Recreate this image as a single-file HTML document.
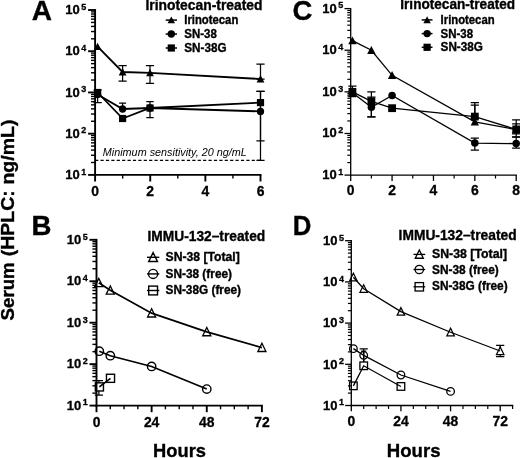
<!DOCTYPE html>
<html><head><meta charset="utf-8"><title>Figure</title>
<style>html,body{margin:0;padding:0;background:#fff}svg{display:block}</style></head>
<body>
<svg width="520" height="458" viewBox="0 0 520 458" font-family='"Liberation Sans", Arial, Helvetica, sans-serif' fill="#000">
<rect width="520" height="458" fill="#fff"/>
<text x="31.8" y="20.0" text-anchor="start" font-size="28" font-weight="bold" stroke="#000" stroke-width="0.35">A</text>
<line x1="95.1" y1="160.3" x2="260.5" y2="160.3" stroke="#000" stroke-width="1.3" stroke-dasharray="3.2 2.2"/>
<text x="102.8" y="155.5" text-anchor="start" font-size="11" font-weight="normal" textLength="144" lengthAdjust="spacingAndGlyphs" font-style="italic">Minimum sensitivity, 20 ng/mL</text>
<path d="M122.60 65.50V81.00M118.50 65.50H126.70M118.50 81.00H126.70" stroke="#000" stroke-width="1.25" fill="none"/>
<path d="M150.00 65.50V83.30M145.90 65.50H154.10M145.90 83.30H154.10" stroke="#000" stroke-width="1.25" fill="none"/>
<path d="M260.50 64.20V79.00M256.40 64.20H264.60M256.40 79.00H264.60" stroke="#000" stroke-width="1.25" fill="none"/>
<path d="M97.60 90.00V102.70M93.50 90.00H101.70M93.50 102.70H101.70" stroke="#000" stroke-width="1.25" fill="none"/>
<path d="M122.60 103.00V109.00M119.10 103.00H126.10M119.10 109.00H126.10" stroke="#000" stroke-width="1.25" fill="none"/>
<path d="M150.00 101.50V117.70M146.30 101.50H153.70M146.30 117.70H153.70" stroke="#000" stroke-width="1.25" fill="none"/>
<path d="M260.50 91.40V140.90M256.40 91.40H264.60M256.40 140.90H264.60" stroke="#000" stroke-width="1.25" fill="none"/>
<path d="M260.50 91.40V160.30M256.40 91.40H264.60M256.40 160.30H264.60" stroke="#000" stroke-width="1.25" fill="none"/>
<polyline points="97.60,46.60 122.60,72.00 150.00,72.80 260.50,79.00" fill="none" stroke="#000" stroke-width="1.8"/>
<polyline points="97.60,94.50 122.60,109.00 150.00,108.00 260.50,111.40" fill="none" stroke="#000" stroke-width="1.8"/>
<polyline points="97.60,92.50 122.60,118.50 150.00,108.00 260.50,102.60" fill="none" stroke="#000" stroke-width="1.8"/>
<polygon points="97.60,42.70 93.70,50.03 101.50,50.03" fill="#000"/>
<polygon points="122.60,68.10 118.70,75.43 126.50,75.43" fill="#000"/>
<polygon points="150.00,68.90 146.10,76.23 153.90,76.23" fill="#000"/>
<polygon points="260.50,75.10 256.60,82.43 264.40,82.43" fill="#000"/>
<circle cx="97.60" cy="94.50" r="3.65" fill="#000"/>
<circle cx="122.60" cy="109.00" r="3.65" fill="#000"/>
<circle cx="150.00" cy="108.00" r="3.65" fill="#000"/>
<circle cx="260.50" cy="111.40" r="3.65" fill="#000"/>
<rect x="94.00" y="88.90" width="7.2" height="7.2" fill="#000"/>
<rect x="119.00" y="114.90" width="7.2" height="7.2" fill="#000"/>
<rect x="146.40" y="104.40" width="7.2" height="7.2" fill="#000"/>
<rect x="256.90" y="99.00" width="7.2" height="7.2" fill="#000"/>
<line x1="95.1" y1="9.05" x2="95.1" y2="175.85" stroke="#000" stroke-width="1.9"/>
<line x1="94.15" y1="174.9" x2="261.45" y2="174.9" stroke="#000" stroke-width="1.9"/>
<line x1="88.1" y1="174.90" x2="95.1" y2="174.90" stroke="#000" stroke-width="1.9"/>
<text x="86.30" y="179.00" text-anchor="end" font-size="13" font-weight="bold" stroke="#000" stroke-width="0.3">10<tspan font-size="9.0" dx="1.5" dy="-4.3">1</tspan></text>
<line x1="91.0" y1="162.49" x2="95.1" y2="162.49" stroke="#000" stroke-width="1.4"/>
<line x1="91.0" y1="155.23" x2="95.1" y2="155.23" stroke="#000" stroke-width="1.4"/>
<line x1="91.0" y1="150.08" x2="95.1" y2="150.08" stroke="#000" stroke-width="1.4"/>
<line x1="91.0" y1="146.08" x2="95.1" y2="146.08" stroke="#000" stroke-width="1.4"/>
<line x1="91.0" y1="142.82" x2="95.1" y2="142.82" stroke="#000" stroke-width="1.4"/>
<line x1="91.0" y1="140.06" x2="95.1" y2="140.06" stroke="#000" stroke-width="1.4"/>
<line x1="91.0" y1="137.67" x2="95.1" y2="137.67" stroke="#000" stroke-width="1.4"/>
<line x1="91.0" y1="135.56" x2="95.1" y2="135.56" stroke="#000" stroke-width="1.4"/>
<line x1="88.1" y1="133.68" x2="95.1" y2="133.68" stroke="#000" stroke-width="1.9"/>
<text x="86.30" y="137.78" text-anchor="end" font-size="13" font-weight="bold" stroke="#000" stroke-width="0.3">10<tspan font-size="9.0" dx="1.5" dy="-4.3">2</tspan></text>
<line x1="91.0" y1="121.27" x2="95.1" y2="121.27" stroke="#000" stroke-width="1.4"/>
<line x1="91.0" y1="114.01" x2="95.1" y2="114.01" stroke="#000" stroke-width="1.4"/>
<line x1="91.0" y1="108.86" x2="95.1" y2="108.86" stroke="#000" stroke-width="1.4"/>
<line x1="91.0" y1="104.86" x2="95.1" y2="104.86" stroke="#000" stroke-width="1.4"/>
<line x1="91.0" y1="101.60" x2="95.1" y2="101.60" stroke="#000" stroke-width="1.4"/>
<line x1="91.0" y1="98.84" x2="95.1" y2="98.84" stroke="#000" stroke-width="1.4"/>
<line x1="91.0" y1="96.45" x2="95.1" y2="96.45" stroke="#000" stroke-width="1.4"/>
<line x1="91.0" y1="94.34" x2="95.1" y2="94.34" stroke="#000" stroke-width="1.4"/>
<line x1="88.1" y1="92.45" x2="95.1" y2="92.45" stroke="#000" stroke-width="1.9"/>
<text x="86.30" y="96.55" text-anchor="end" font-size="13" font-weight="bold" stroke="#000" stroke-width="0.3">10<tspan font-size="9.0" dx="1.5" dy="-4.3">3</tspan></text>
<line x1="91.0" y1="80.04" x2="95.1" y2="80.04" stroke="#000" stroke-width="1.4"/>
<line x1="91.0" y1="72.78" x2="95.1" y2="72.78" stroke="#000" stroke-width="1.4"/>
<line x1="91.0" y1="67.63" x2="95.1" y2="67.63" stroke="#000" stroke-width="1.4"/>
<line x1="91.0" y1="63.63" x2="95.1" y2="63.63" stroke="#000" stroke-width="1.4"/>
<line x1="91.0" y1="60.37" x2="95.1" y2="60.37" stroke="#000" stroke-width="1.4"/>
<line x1="91.0" y1="57.61" x2="95.1" y2="57.61" stroke="#000" stroke-width="1.4"/>
<line x1="91.0" y1="55.22" x2="95.1" y2="55.22" stroke="#000" stroke-width="1.4"/>
<line x1="91.0" y1="53.11" x2="95.1" y2="53.11" stroke="#000" stroke-width="1.4"/>
<line x1="88.1" y1="51.22" x2="95.1" y2="51.22" stroke="#000" stroke-width="1.9"/>
<text x="86.30" y="55.32" text-anchor="end" font-size="13" font-weight="bold" stroke="#000" stroke-width="0.3">10<tspan font-size="9.0" dx="1.5" dy="-4.3">4</tspan></text>
<line x1="91.0" y1="38.82" x2="95.1" y2="38.82" stroke="#000" stroke-width="1.4"/>
<line x1="91.0" y1="31.56" x2="95.1" y2="31.56" stroke="#000" stroke-width="1.4"/>
<line x1="91.0" y1="26.41" x2="95.1" y2="26.41" stroke="#000" stroke-width="1.4"/>
<line x1="91.0" y1="22.41" x2="95.1" y2="22.41" stroke="#000" stroke-width="1.4"/>
<line x1="91.0" y1="19.15" x2="95.1" y2="19.15" stroke="#000" stroke-width="1.4"/>
<line x1="91.0" y1="16.39" x2="95.1" y2="16.39" stroke="#000" stroke-width="1.4"/>
<line x1="91.0" y1="14.00" x2="95.1" y2="14.00" stroke="#000" stroke-width="1.4"/>
<line x1="91.0" y1="11.89" x2="95.1" y2="11.89" stroke="#000" stroke-width="1.4"/>
<line x1="88.1" y1="10.00" x2="95.1" y2="10.00" stroke="#000" stroke-width="1.9"/>
<text x="86.30" y="14.10" text-anchor="end" font-size="13" font-weight="bold" stroke="#000" stroke-width="0.3">10<tspan font-size="9.0" dx="1.5" dy="-4.3">5</tspan></text>
<line x1="95.10" y1="174.9" x2="95.10" y2="181.5" stroke="#000" stroke-width="1.9"/>
<line x1="150.23" y1="174.9" x2="150.23" y2="181.5" stroke="#000" stroke-width="1.9"/>
<line x1="205.37" y1="174.9" x2="205.37" y2="181.5" stroke="#000" stroke-width="1.9"/>
<line x1="260.50" y1="174.9" x2="260.50" y2="181.5" stroke="#000" stroke-width="1.9"/>
<line x1="122.67" y1="174.9" x2="122.67" y2="178.6" stroke="#000" stroke-width="1.4"/>
<line x1="177.80" y1="174.9" x2="177.80" y2="178.6" stroke="#000" stroke-width="1.4"/>
<line x1="232.93" y1="174.9" x2="232.93" y2="178.6" stroke="#000" stroke-width="1.4"/>
<text x="95.10" y="196.20" text-anchor="middle" font-size="13.9" font-weight="bold" stroke="#000" stroke-width="0.3">0</text>
<text x="150.23" y="196.20" text-anchor="middle" font-size="13.9" font-weight="bold" stroke="#000" stroke-width="0.3">2</text>
<text x="205.37" y="196.20" text-anchor="middle" font-size="13.9" font-weight="bold" stroke="#000" stroke-width="0.3">4</text>
<text x="260.50" y="196.20" text-anchor="middle" font-size="13.9" font-weight="bold" stroke="#000" stroke-width="0.3">6</text>
<text x="204" y="9.5" text-anchor="middle" font-size="14" font-weight="bold" stroke="#000" stroke-width="0.35" textLength="117" lengthAdjust="spacingAndGlyphs">Irinotecan-treated</text>
<line x1="165.7" y1="20.10" x2="177" y2="20.10" stroke="#000" stroke-width="1.5"/>
<polygon points="171.30,16.40 167.60,23.36 175.00,23.36" fill="#000"/>
<text x="184.3" y="24.3" text-anchor="start" font-size="12" font-weight="bold" stroke="#000" stroke-width="0.35" textLength="54" lengthAdjust="spacingAndGlyphs">Irinotecan</text>
<line x1="165.7" y1="34.05" x2="177" y2="34.05" stroke="#000" stroke-width="1.5"/>
<circle cx="171.30" cy="34.05" r="3.7" fill="#000"/>
<text x="184.3" y="38.25" text-anchor="start" font-size="12" font-weight="bold" stroke="#000" stroke-width="0.35" textLength="32.5" lengthAdjust="spacingAndGlyphs">SN-38</text>
<line x1="165.7" y1="48.00" x2="177" y2="48.00" stroke="#000" stroke-width="1.5"/>
<rect x="167.70" y="44.40" width="7.2" height="7.2" fill="#000"/>
<text x="184.3" y="52.2" text-anchor="start" font-size="12" font-weight="bold" stroke="#000" stroke-width="0.35" textLength="42.3" lengthAdjust="spacingAndGlyphs">SN-38G</text>
<text x="292.5" y="19.6" text-anchor="start" font-size="27.5" font-weight="bold" stroke="#000" stroke-width="0.35">C</text>
<path d="M352.42 86.00V96.50M348.32 86.00H356.52M348.32 96.50H356.52" stroke="#000" stroke-width="1.25" fill="none"/>
<path d="M371.39 91.85V116.91M367.29 91.85H375.49M367.29 116.91H375.49" stroke="#000" stroke-width="1.25" fill="none"/>
<path d="M371.39 97.05V116.91M367.29 97.05H375.49M367.29 116.91H375.49" stroke="#000" stroke-width="1.25" fill="none"/>
<path d="M474.83 102.50V118.00M470.73 102.50H478.93M470.73 118.00H478.93" stroke="#000" stroke-width="1.25" fill="none"/>
<path d="M474.83 105.00V118.00M470.73 105.00H478.93M470.73 118.00H478.93" stroke="#000" stroke-width="1.25" fill="none"/>
<path d="M474.83 138.10V150.00M470.73 138.10H478.93M470.73 150.00H478.93" stroke="#000" stroke-width="1.25" fill="none"/>
<path d="M516.20 119.75V137.20M512.10 119.75H520.30M512.10 137.20H520.30" stroke="#000" stroke-width="1.25" fill="none"/>
<path d="M516.20 123.75V133.75M512.10 123.75H520.30M512.10 133.75H520.30" stroke="#000" stroke-width="1.25" fill="none"/>
<path d="M516.20 136.90V148.10M512.10 136.90H520.30M512.10 148.10H520.30" stroke="#000" stroke-width="1.25" fill="none"/>
<polyline points="352.42,40.63 371.39,50.22 392.07,75.29 474.83,121.90 516.20,129.60" fill="none" stroke="#000" stroke-width="1.3"/>
<polyline points="352.42,92.78 371.39,107.32 392.07,95.44 474.83,143.10 516.20,143.60" fill="none" stroke="#000" stroke-width="1.3"/>
<polyline points="352.42,91.85 371.39,101.39 392.07,108.19 474.83,116.60 516.20,129.40" fill="none" stroke="#000" stroke-width="1.3"/>
<polygon points="352.42,36.43 348.22,44.33 356.62,44.33" fill="#000"/>
<polygon points="371.39,46.02 367.19,53.92 375.59,53.92" fill="#000"/>
<polygon points="392.07,71.09 387.88,78.98 396.27,78.98" fill="#000"/>
<polygon points="474.83,117.70 470.63,125.60 479.03,125.60" fill="#000"/>
<polygon points="516.20,125.40 512.00,133.30 520.40,133.30" fill="#000"/>
<circle cx="352.42" cy="92.78" r="3.75" fill="#000"/>
<circle cx="371.39" cy="107.32" r="3.75" fill="#000"/>
<circle cx="392.07" cy="95.44" r="3.75" fill="#000"/>
<circle cx="474.83" cy="143.10" r="3.75" fill="#000"/>
<circle cx="516.20" cy="143.60" r="3.75" fill="#000"/>
<rect x="348.52" y="87.95" width="7.8" height="7.8" fill="#000"/>
<rect x="367.49" y="97.49" width="7.8" height="7.8" fill="#000"/>
<rect x="388.18" y="104.29" width="7.8" height="7.8" fill="#000"/>
<rect x="470.93" y="112.70" width="7.8" height="7.8" fill="#000"/>
<rect x="512.30" y="125.50" width="7.8" height="7.8" fill="#000"/>
<line x1="350.7" y1="7.95" x2="350.7" y2="175.75" stroke="#000" stroke-width="1.3"/>
<line x1="350.05" y1="175.1" x2="516.85" y2="175.1" stroke="#000" stroke-width="1.3"/>
<line x1="344.5" y1="175.10" x2="350.7" y2="175.10" stroke="#000" stroke-width="1.3"/>
<text x="343.30" y="179.10" text-anchor="end" font-size="13" font-weight="bold" stroke="#000" stroke-width="0.3">10<tspan font-size="9.0" dx="1.5" dy="-4.3">1</tspan></text>
<line x1="347.3" y1="162.57" x2="350.7" y2="162.57" stroke="#000" stroke-width="1.2"/>
<line x1="347.3" y1="155.24" x2="350.7" y2="155.24" stroke="#000" stroke-width="1.2"/>
<line x1="347.3" y1="150.04" x2="350.7" y2="150.04" stroke="#000" stroke-width="1.2"/>
<line x1="347.3" y1="146.01" x2="350.7" y2="146.01" stroke="#000" stroke-width="1.2"/>
<line x1="347.3" y1="142.71" x2="350.7" y2="142.71" stroke="#000" stroke-width="1.2"/>
<line x1="347.3" y1="139.92" x2="350.7" y2="139.92" stroke="#000" stroke-width="1.2"/>
<line x1="347.3" y1="137.51" x2="350.7" y2="137.51" stroke="#000" stroke-width="1.2"/>
<line x1="347.3" y1="135.38" x2="350.7" y2="135.38" stroke="#000" stroke-width="1.2"/>
<line x1="344.5" y1="133.47" x2="350.7" y2="133.47" stroke="#000" stroke-width="1.3"/>
<text x="343.30" y="137.47" text-anchor="end" font-size="13" font-weight="bold" stroke="#000" stroke-width="0.3">10<tspan font-size="9.0" dx="1.5" dy="-4.3">2</tspan></text>
<line x1="347.3" y1="120.94" x2="350.7" y2="120.94" stroke="#000" stroke-width="1.2"/>
<line x1="347.3" y1="113.61" x2="350.7" y2="113.61" stroke="#000" stroke-width="1.2"/>
<line x1="347.3" y1="108.41" x2="350.7" y2="108.41" stroke="#000" stroke-width="1.2"/>
<line x1="347.3" y1="104.38" x2="350.7" y2="104.38" stroke="#000" stroke-width="1.2"/>
<line x1="347.3" y1="101.08" x2="350.7" y2="101.08" stroke="#000" stroke-width="1.2"/>
<line x1="347.3" y1="98.30" x2="350.7" y2="98.30" stroke="#000" stroke-width="1.2"/>
<line x1="347.3" y1="95.88" x2="350.7" y2="95.88" stroke="#000" stroke-width="1.2"/>
<line x1="347.3" y1="93.75" x2="350.7" y2="93.75" stroke="#000" stroke-width="1.2"/>
<line x1="344.5" y1="91.85" x2="350.7" y2="91.85" stroke="#000" stroke-width="1.3"/>
<text x="343.30" y="95.85" text-anchor="end" font-size="13" font-weight="bold" stroke="#000" stroke-width="0.3">10<tspan font-size="9.0" dx="1.5" dy="-4.3">3</tspan></text>
<line x1="347.3" y1="79.32" x2="350.7" y2="79.32" stroke="#000" stroke-width="1.2"/>
<line x1="347.3" y1="71.99" x2="350.7" y2="71.99" stroke="#000" stroke-width="1.2"/>
<line x1="347.3" y1="66.79" x2="350.7" y2="66.79" stroke="#000" stroke-width="1.2"/>
<line x1="347.3" y1="62.76" x2="350.7" y2="62.76" stroke="#000" stroke-width="1.2"/>
<line x1="347.3" y1="59.46" x2="350.7" y2="59.46" stroke="#000" stroke-width="1.2"/>
<line x1="347.3" y1="56.67" x2="350.7" y2="56.67" stroke="#000" stroke-width="1.2"/>
<line x1="347.3" y1="54.26" x2="350.7" y2="54.26" stroke="#000" stroke-width="1.2"/>
<line x1="347.3" y1="52.13" x2="350.7" y2="52.13" stroke="#000" stroke-width="1.2"/>
<line x1="344.5" y1="50.22" x2="350.7" y2="50.22" stroke="#000" stroke-width="1.3"/>
<text x="343.30" y="54.22" text-anchor="end" font-size="13" font-weight="bold" stroke="#000" stroke-width="0.3">10<tspan font-size="9.0" dx="1.5" dy="-4.3">4</tspan></text>
<line x1="347.3" y1="37.69" x2="350.7" y2="37.69" stroke="#000" stroke-width="1.2"/>
<line x1="347.3" y1="30.36" x2="350.7" y2="30.36" stroke="#000" stroke-width="1.2"/>
<line x1="347.3" y1="25.16" x2="350.7" y2="25.16" stroke="#000" stroke-width="1.2"/>
<line x1="347.3" y1="21.13" x2="350.7" y2="21.13" stroke="#000" stroke-width="1.2"/>
<line x1="347.3" y1="17.83" x2="350.7" y2="17.83" stroke="#000" stroke-width="1.2"/>
<line x1="347.3" y1="15.05" x2="350.7" y2="15.05" stroke="#000" stroke-width="1.2"/>
<line x1="347.3" y1="12.63" x2="350.7" y2="12.63" stroke="#000" stroke-width="1.2"/>
<line x1="347.3" y1="10.50" x2="350.7" y2="10.50" stroke="#000" stroke-width="1.2"/>
<line x1="344.5" y1="8.60" x2="350.7" y2="8.60" stroke="#000" stroke-width="1.3"/>
<text x="343.30" y="12.60" text-anchor="end" font-size="13" font-weight="bold" stroke="#000" stroke-width="0.3">10<tspan font-size="9.0" dx="1.5" dy="-4.3">5</tspan></text>
<line x1="350.70" y1="175.1" x2="350.70" y2="180.9" stroke="#000" stroke-width="1.3"/>
<line x1="392.07" y1="175.1" x2="392.07" y2="180.9" stroke="#000" stroke-width="1.3"/>
<line x1="433.45" y1="175.1" x2="433.45" y2="180.9" stroke="#000" stroke-width="1.3"/>
<line x1="474.83" y1="175.1" x2="474.83" y2="180.9" stroke="#000" stroke-width="1.3"/>
<line x1="516.20" y1="175.1" x2="516.20" y2="180.9" stroke="#000" stroke-width="1.3"/>
<line x1="371.39" y1="175.1" x2="371.39" y2="178.5" stroke="#000" stroke-width="1.2"/>
<line x1="412.76" y1="175.1" x2="412.76" y2="178.5" stroke="#000" stroke-width="1.2"/>
<line x1="454.14" y1="175.1" x2="454.14" y2="178.5" stroke="#000" stroke-width="1.2"/>
<line x1="495.51" y1="175.1" x2="495.51" y2="178.5" stroke="#000" stroke-width="1.2"/>
<text x="350.70" y="195.10" text-anchor="middle" font-size="13.9" font-weight="bold" stroke="#000" stroke-width="0.3">0</text>
<text x="392.07" y="195.10" text-anchor="middle" font-size="13.9" font-weight="bold" stroke="#000" stroke-width="0.3">2</text>
<text x="433.45" y="195.10" text-anchor="middle" font-size="13.9" font-weight="bold" stroke="#000" stroke-width="0.3">4</text>
<text x="474.83" y="195.10" text-anchor="middle" font-size="13.9" font-weight="bold" stroke="#000" stroke-width="0.3">6</text>
<text x="516.20" y="195.10" text-anchor="middle" font-size="13.9" font-weight="bold" stroke="#000" stroke-width="0.3">8</text>
<text x="400.3" y="9.2" text-anchor="start" font-size="13.8" font-weight="bold" stroke="#000" stroke-width="0.35" textLength="114.8" lengthAdjust="spacingAndGlyphs">Irinotecan-treated</text>
<line x1="421.7" y1="19.90" x2="432.5" y2="19.90" stroke="#000" stroke-width="1.5"/>
<polygon points="427.10,16.20 423.40,23.16 430.80,23.16" fill="#000"/>
<text x="440.6" y="24.0" text-anchor="start" font-size="12" font-weight="bold" stroke="#000" stroke-width="0.35" textLength="54" lengthAdjust="spacingAndGlyphs">Irinotecan</text>
<line x1="421.7" y1="33.60" x2="432.5" y2="33.60" stroke="#000" stroke-width="1.5"/>
<circle cx="427.10" cy="33.60" r="3.7" fill="#000"/>
<text x="440.6" y="37.7" text-anchor="start" font-size="12" font-weight="bold" stroke="#000" stroke-width="0.35" textLength="32.5" lengthAdjust="spacingAndGlyphs">SN-38</text>
<line x1="421.7" y1="47.30" x2="432.5" y2="47.30" stroke="#000" stroke-width="1.5"/>
<rect x="423.50" y="43.70" width="7.2" height="7.2" fill="#000"/>
<text x="440.6" y="51.4" text-anchor="start" font-size="12" font-weight="bold" stroke="#000" stroke-width="0.35" textLength="42.3" lengthAdjust="spacingAndGlyphs">SN-38G</text>
<text x="31.5" y="235.1" text-anchor="start" font-size="27.6" font-weight="bold" stroke="#000" stroke-width="0.35">B</text>
<path d="M98.90 380.60V395.10M94.80 380.60H103.00M94.80 395.10H103.00" stroke="#000" stroke-width="1.25" fill="none"/>
<polygon points="98.80,278.40 94.75,286.60 102.85,286.60" fill="#fff" stroke="#000" stroke-width="1.3" stroke-linejoin="miter"/>
<polygon points="110.28,285.95 106.23,294.15 114.33,294.15" fill="#fff" stroke="#000" stroke-width="1.3" stroke-linejoin="miter"/>
<polygon points="151.63,308.80 147.58,317.00 155.68,317.00" fill="#fff" stroke="#000" stroke-width="1.3" stroke-linejoin="miter"/>
<polygon points="206.77,327.55 202.72,335.75 210.82,335.75" fill="#fff" stroke="#000" stroke-width="1.3" stroke-linejoin="miter"/>
<polygon points="261.90,343.31 257.85,351.51 265.95,351.51" fill="#fff" stroke="#000" stroke-width="1.3" stroke-linejoin="miter"/>
<circle cx="99.30" cy="351.20" r="4.2" fill="#fff" stroke="#000" stroke-width="1.4"/>
<circle cx="110.30" cy="355.70" r="4.2" fill="#fff" stroke="#000" stroke-width="1.4"/>
<circle cx="151.63" cy="366.45" r="4.2" fill="#fff" stroke="#000" stroke-width="1.4"/>
<circle cx="206.77" cy="389.11" r="4.2" fill="#fff" stroke="#000" stroke-width="1.4"/>
<rect x="95.35" y="382.85" width="8.1" height="8.1" fill="#fff" stroke="#000" stroke-width="1.4"/>
<rect x="106.45" y="374.25" width="8.1" height="8.1" fill="#fff" stroke="#000" stroke-width="1.4"/>
<polyline points="98.80,282.75 110.28,290.30 151.63,313.15 206.77,331.90 261.90,347.66" fill="none" stroke="#000" stroke-width="1.65"/>
<polyline points="99.30,351.20 110.30,355.70 151.63,366.45 206.77,389.11" fill="none" stroke="#000" stroke-width="1.65"/>
<polyline points="99.40,386.90 110.50,378.30" fill="none" stroke="#000" stroke-width="1.65"/>
<line x1="96.5" y1="238.85" x2="96.5" y2="406.55" stroke="#000" stroke-width="1.9"/>
<line x1="95.55" y1="405.6" x2="262.85" y2="405.6" stroke="#000" stroke-width="1.9"/>
<line x1="89.5" y1="405.60" x2="96.5" y2="405.60" stroke="#000" stroke-width="1.9"/>
<text x="87.70" y="409.70" text-anchor="end" font-size="13" font-weight="bold" stroke="#000" stroke-width="0.3">10<tspan font-size="9.0" dx="1.5" dy="-4.3">1</tspan></text>
<line x1="92.4" y1="393.12" x2="96.5" y2="393.12" stroke="#000" stroke-width="1.4"/>
<line x1="92.4" y1="385.82" x2="96.5" y2="385.82" stroke="#000" stroke-width="1.4"/>
<line x1="92.4" y1="380.64" x2="96.5" y2="380.64" stroke="#000" stroke-width="1.4"/>
<line x1="92.4" y1="376.63" x2="96.5" y2="376.63" stroke="#000" stroke-width="1.4"/>
<line x1="92.4" y1="373.35" x2="96.5" y2="373.35" stroke="#000" stroke-width="1.4"/>
<line x1="92.4" y1="370.57" x2="96.5" y2="370.57" stroke="#000" stroke-width="1.4"/>
<line x1="92.4" y1="368.17" x2="96.5" y2="368.17" stroke="#000" stroke-width="1.4"/>
<line x1="92.4" y1="366.05" x2="96.5" y2="366.05" stroke="#000" stroke-width="1.4"/>
<line x1="89.5" y1="364.15" x2="96.5" y2="364.15" stroke="#000" stroke-width="1.9"/>
<text x="87.70" y="368.25" text-anchor="end" font-size="13" font-weight="bold" stroke="#000" stroke-width="0.3">10<tspan font-size="9.0" dx="1.5" dy="-4.3">2</tspan></text>
<line x1="92.4" y1="351.67" x2="96.5" y2="351.67" stroke="#000" stroke-width="1.4"/>
<line x1="92.4" y1="344.37" x2="96.5" y2="344.37" stroke="#000" stroke-width="1.4"/>
<line x1="92.4" y1="339.19" x2="96.5" y2="339.19" stroke="#000" stroke-width="1.4"/>
<line x1="92.4" y1="335.18" x2="96.5" y2="335.18" stroke="#000" stroke-width="1.4"/>
<line x1="92.4" y1="331.90" x2="96.5" y2="331.90" stroke="#000" stroke-width="1.4"/>
<line x1="92.4" y1="329.12" x2="96.5" y2="329.12" stroke="#000" stroke-width="1.4"/>
<line x1="92.4" y1="326.72" x2="96.5" y2="326.72" stroke="#000" stroke-width="1.4"/>
<line x1="92.4" y1="324.60" x2="96.5" y2="324.60" stroke="#000" stroke-width="1.4"/>
<line x1="89.5" y1="322.70" x2="96.5" y2="322.70" stroke="#000" stroke-width="1.9"/>
<text x="87.70" y="326.80" text-anchor="end" font-size="13" font-weight="bold" stroke="#000" stroke-width="0.3">10<tspan font-size="9.0" dx="1.5" dy="-4.3">3</tspan></text>
<line x1="92.4" y1="310.22" x2="96.5" y2="310.22" stroke="#000" stroke-width="1.4"/>
<line x1="92.4" y1="302.92" x2="96.5" y2="302.92" stroke="#000" stroke-width="1.4"/>
<line x1="92.4" y1="297.74" x2="96.5" y2="297.74" stroke="#000" stroke-width="1.4"/>
<line x1="92.4" y1="293.73" x2="96.5" y2="293.73" stroke="#000" stroke-width="1.4"/>
<line x1="92.4" y1="290.45" x2="96.5" y2="290.45" stroke="#000" stroke-width="1.4"/>
<line x1="92.4" y1="287.67" x2="96.5" y2="287.67" stroke="#000" stroke-width="1.4"/>
<line x1="92.4" y1="285.27" x2="96.5" y2="285.27" stroke="#000" stroke-width="1.4"/>
<line x1="92.4" y1="283.15" x2="96.5" y2="283.15" stroke="#000" stroke-width="1.4"/>
<line x1="89.5" y1="281.25" x2="96.5" y2="281.25" stroke="#000" stroke-width="1.9"/>
<text x="87.70" y="285.35" text-anchor="end" font-size="13" font-weight="bold" stroke="#000" stroke-width="0.3">10<tspan font-size="9.0" dx="1.5" dy="-4.3">4</tspan></text>
<line x1="92.4" y1="268.77" x2="96.5" y2="268.77" stroke="#000" stroke-width="1.4"/>
<line x1="92.4" y1="261.47" x2="96.5" y2="261.47" stroke="#000" stroke-width="1.4"/>
<line x1="92.4" y1="256.29" x2="96.5" y2="256.29" stroke="#000" stroke-width="1.4"/>
<line x1="92.4" y1="252.28" x2="96.5" y2="252.28" stroke="#000" stroke-width="1.4"/>
<line x1="92.4" y1="249.00" x2="96.5" y2="249.00" stroke="#000" stroke-width="1.4"/>
<line x1="92.4" y1="246.22" x2="96.5" y2="246.22" stroke="#000" stroke-width="1.4"/>
<line x1="92.4" y1="243.82" x2="96.5" y2="243.82" stroke="#000" stroke-width="1.4"/>
<line x1="92.4" y1="241.70" x2="96.5" y2="241.70" stroke="#000" stroke-width="1.4"/>
<line x1="89.5" y1="239.80" x2="96.5" y2="239.80" stroke="#000" stroke-width="1.9"/>
<text x="87.70" y="243.90" text-anchor="end" font-size="13" font-weight="bold" stroke="#000" stroke-width="0.3">10<tspan font-size="9.0" dx="1.5" dy="-4.3">5</tspan></text>
<line x1="96.50" y1="405.6" x2="96.50" y2="412.20000000000005" stroke="#000" stroke-width="1.9"/>
<line x1="151.63" y1="405.6" x2="151.63" y2="412.20000000000005" stroke="#000" stroke-width="1.9"/>
<line x1="206.77" y1="405.6" x2="206.77" y2="412.20000000000005" stroke="#000" stroke-width="1.9"/>
<line x1="261.90" y1="405.6" x2="261.90" y2="412.20000000000005" stroke="#000" stroke-width="1.9"/>
<line x1="110.28" y1="405.6" x2="110.28" y2="409.3" stroke="#000" stroke-width="1.4"/>
<line x1="124.07" y1="405.6" x2="124.07" y2="409.3" stroke="#000" stroke-width="1.4"/>
<line x1="137.85" y1="405.6" x2="137.85" y2="409.3" stroke="#000" stroke-width="1.4"/>
<line x1="165.42" y1="405.6" x2="165.42" y2="409.3" stroke="#000" stroke-width="1.4"/>
<line x1="179.20" y1="405.6" x2="179.20" y2="409.3" stroke="#000" stroke-width="1.4"/>
<line x1="192.98" y1="405.6" x2="192.98" y2="409.3" stroke="#000" stroke-width="1.4"/>
<line x1="220.55" y1="405.6" x2="220.55" y2="409.3" stroke="#000" stroke-width="1.4"/>
<line x1="234.33" y1="405.6" x2="234.33" y2="409.3" stroke="#000" stroke-width="1.4"/>
<line x1="248.12" y1="405.6" x2="248.12" y2="409.3" stroke="#000" stroke-width="1.4"/>
<text x="96.50" y="426.90" text-anchor="middle" font-size="13.9" font-weight="bold" stroke="#000" stroke-width="0.3">0</text>
<text x="151.63" y="426.90" text-anchor="middle" font-size="13.9" font-weight="bold" stroke="#000" stroke-width="0.3">24</text>
<text x="206.77" y="426.90" text-anchor="middle" font-size="13.9" font-weight="bold" stroke="#000" stroke-width="0.3">48</text>
<text x="261.90" y="426.90" text-anchor="middle" font-size="13.9" font-weight="bold" stroke="#000" stroke-width="0.3">72</text>
<text x="147.5" y="241.4" text-anchor="start" font-size="14" font-weight="bold" stroke="#000" stroke-width="0.35" textLength="117.7" lengthAdjust="spacingAndGlyphs">IMMU-132–treated</text>
<polygon points="153.10,252.60 148.73,261.46 157.47,261.46" fill="#fff" stroke="#000" stroke-width="1.4" stroke-linejoin="miter"/>
<line x1="147" y1="257.30" x2="159.3" y2="257.30" stroke="#000" stroke-width="1.4"/>
<text x="165.5" y="261.0" text-anchor="start" font-size="12.2" font-weight="bold" stroke="#000" stroke-width="0.35" textLength="74.3" lengthAdjust="spacingAndGlyphs">SN-38 [Total]</text>
<circle cx="153.10" cy="273.90" r="4.55" fill="#fff" stroke="#000" stroke-width="1.4"/>
<line x1="147" y1="273.90" x2="159.3" y2="273.90" stroke="#000" stroke-width="1.4"/>
<text x="165.5" y="277.7" text-anchor="start" font-size="12.2" font-weight="bold" stroke="#000" stroke-width="0.35" textLength="66.5" lengthAdjust="spacingAndGlyphs">SN-38 (free)</text>
<rect x="148.70" y="286.10" width="8.8" height="8.8" fill="#fff" stroke="#000" stroke-width="1.4"/>
<line x1="147" y1="290.50" x2="159.3" y2="290.50" stroke="#000" stroke-width="1.4"/>
<text x="165.5" y="294.4" text-anchor="start" font-size="12.2" font-weight="bold" stroke="#000" stroke-width="0.35" textLength="75.5" lengthAdjust="spacingAndGlyphs">SN-38G (free)</text>
<text x="179.5" y="457.2" text-anchor="middle" font-size="18.2" font-weight="bold" stroke="#000" stroke-width="0.35" textLength="52.9" lengthAdjust="spacingAndGlyphs">Hours</text>
<text x="292.8" y="235.4" text-anchor="start" font-size="27.3" font-weight="bold" stroke="#000" stroke-width="0.35" textLength="18.6" lengthAdjust="spacingAndGlyphs">D</text>
<path d="M500.20 345.40V356.70M496.10 345.40H504.30M496.10 356.70H504.30" stroke="#000" stroke-width="1.25" fill="none"/>
<polygon points="353.37,273.20 349.64,280.75 357.09,280.75" fill="#fff" stroke="#000" stroke-width="1.25" stroke-linejoin="miter"/>
<polygon points="363.71,284.80 359.98,292.34 367.43,292.34" fill="#fff" stroke="#000" stroke-width="1.25" stroke-linejoin="miter"/>
<polygon points="400.93,307.61 397.21,315.16 404.66,315.16" fill="#fff" stroke="#000" stroke-width="1.25" stroke-linejoin="miter"/>
<polygon points="450.57,328.24 446.84,335.78 454.29,335.78" fill="#fff" stroke="#000" stroke-width="1.25" stroke-linejoin="miter"/>
<polygon points="500.20,347.00 496.47,354.54 503.93,354.54" fill="#fff" stroke="#000" stroke-width="1.25" stroke-linejoin="miter"/>
<circle cx="353.37" cy="348.64" r="3.8" fill="#fff" stroke="#000" stroke-width="1.3"/>
<circle cx="363.71" cy="355.34" r="3.8" fill="#fff" stroke="#000" stroke-width="1.3"/>
<circle cx="400.93" cy="375.00" r="3.8" fill="#fff" stroke="#000" stroke-width="1.3"/>
<circle cx="450.57" cy="391.39" r="3.8" fill="#fff" stroke="#000" stroke-width="1.3"/>
<path d="M363.71 348.80V366.00M359.61 348.80H367.81M359.61 366.00H367.81" stroke="#000" stroke-width="1.25" fill="none"/>
<path d="M363.71 351.20V366.00M361.11 351.20H366.31M361.11 366.00H366.31" stroke="#000" stroke-width="1.25" fill="none"/>
<rect x="349.57" y="382.04" width="7.6" height="7.6" fill="#fff" stroke="#000" stroke-width="1.3"/>
<rect x="359.91" y="361.99" width="7.6" height="7.6" fill="#fff" stroke="#000" stroke-width="1.3"/>
<rect x="397.13" y="382.65" width="7.6" height="7.6" fill="#fff" stroke="#000" stroke-width="1.3"/>
<polyline points="353.37,277.21 363.71,288.80 400.93,311.62 450.57,332.24 500.20,351.00" fill="none" stroke="#000" stroke-width="1.3"/>
<polyline points="353.37,348.64 363.71,355.34 400.93,375.00 450.57,391.39" fill="none" stroke="#000" stroke-width="1.3"/>
<polyline points="353.37,385.84 363.71,365.79 400.93,386.45" fill="none" stroke="#000" stroke-width="1.3"/>
<line x1="351.3" y1="240.05" x2="351.3" y2="406.15" stroke="#000" stroke-width="1.3"/>
<line x1="350.65" y1="405.5" x2="513.26" y2="405.5" stroke="#000" stroke-width="1.3"/>
<line x1="345.1" y1="405.50" x2="351.3" y2="405.50" stroke="#000" stroke-width="1.3"/>
<text x="343.90" y="409.70" text-anchor="end" font-size="13" font-weight="bold" stroke="#000" stroke-width="0.3">10<tspan font-size="9.0" dx="1.5" dy="-4.3">1</tspan></text>
<line x1="347.90000000000003" y1="393.10" x2="351.3" y2="393.10" stroke="#000" stroke-width="1.2"/>
<line x1="347.90000000000003" y1="385.84" x2="351.3" y2="385.84" stroke="#000" stroke-width="1.2"/>
<line x1="347.90000000000003" y1="380.70" x2="351.3" y2="380.70" stroke="#000" stroke-width="1.2"/>
<line x1="347.90000000000003" y1="376.70" x2="351.3" y2="376.70" stroke="#000" stroke-width="1.2"/>
<line x1="347.90000000000003" y1="373.44" x2="351.3" y2="373.44" stroke="#000" stroke-width="1.2"/>
<line x1="347.90000000000003" y1="370.68" x2="351.3" y2="370.68" stroke="#000" stroke-width="1.2"/>
<line x1="347.90000000000003" y1="368.29" x2="351.3" y2="368.29" stroke="#000" stroke-width="1.2"/>
<line x1="347.90000000000003" y1="366.19" x2="351.3" y2="366.19" stroke="#000" stroke-width="1.2"/>
<line x1="345.1" y1="364.30" x2="351.3" y2="364.30" stroke="#000" stroke-width="1.3"/>
<text x="343.90" y="368.50" text-anchor="end" font-size="13" font-weight="bold" stroke="#000" stroke-width="0.3">10<tspan font-size="9.0" dx="1.5" dy="-4.3">2</tspan></text>
<line x1="347.90000000000003" y1="351.90" x2="351.3" y2="351.90" stroke="#000" stroke-width="1.2"/>
<line x1="347.90000000000003" y1="344.64" x2="351.3" y2="344.64" stroke="#000" stroke-width="1.2"/>
<line x1="347.90000000000003" y1="339.50" x2="351.3" y2="339.50" stroke="#000" stroke-width="1.2"/>
<line x1="347.90000000000003" y1="335.50" x2="351.3" y2="335.50" stroke="#000" stroke-width="1.2"/>
<line x1="347.90000000000003" y1="332.24" x2="351.3" y2="332.24" stroke="#000" stroke-width="1.2"/>
<line x1="347.90000000000003" y1="329.48" x2="351.3" y2="329.48" stroke="#000" stroke-width="1.2"/>
<line x1="347.90000000000003" y1="327.09" x2="351.3" y2="327.09" stroke="#000" stroke-width="1.2"/>
<line x1="347.90000000000003" y1="324.99" x2="351.3" y2="324.99" stroke="#000" stroke-width="1.2"/>
<line x1="345.1" y1="323.10" x2="351.3" y2="323.10" stroke="#000" stroke-width="1.3"/>
<text x="343.90" y="327.30" text-anchor="end" font-size="13" font-weight="bold" stroke="#000" stroke-width="0.3">10<tspan font-size="9.0" dx="1.5" dy="-4.3">3</tspan></text>
<line x1="347.90000000000003" y1="310.70" x2="351.3" y2="310.70" stroke="#000" stroke-width="1.2"/>
<line x1="347.90000000000003" y1="303.44" x2="351.3" y2="303.44" stroke="#000" stroke-width="1.2"/>
<line x1="347.90000000000003" y1="298.30" x2="351.3" y2="298.30" stroke="#000" stroke-width="1.2"/>
<line x1="347.90000000000003" y1="294.30" x2="351.3" y2="294.30" stroke="#000" stroke-width="1.2"/>
<line x1="347.90000000000003" y1="291.04" x2="351.3" y2="291.04" stroke="#000" stroke-width="1.2"/>
<line x1="347.90000000000003" y1="288.28" x2="351.3" y2="288.28" stroke="#000" stroke-width="1.2"/>
<line x1="347.90000000000003" y1="285.89" x2="351.3" y2="285.89" stroke="#000" stroke-width="1.2"/>
<line x1="347.90000000000003" y1="283.79" x2="351.3" y2="283.79" stroke="#000" stroke-width="1.2"/>
<line x1="345.1" y1="281.90" x2="351.3" y2="281.90" stroke="#000" stroke-width="1.3"/>
<text x="343.90" y="286.10" text-anchor="end" font-size="13" font-weight="bold" stroke="#000" stroke-width="0.3">10<tspan font-size="9.0" dx="1.5" dy="-4.3">4</tspan></text>
<line x1="347.90000000000003" y1="269.50" x2="351.3" y2="269.50" stroke="#000" stroke-width="1.2"/>
<line x1="347.90000000000003" y1="262.24" x2="351.3" y2="262.24" stroke="#000" stroke-width="1.2"/>
<line x1="347.90000000000003" y1="257.10" x2="351.3" y2="257.10" stroke="#000" stroke-width="1.2"/>
<line x1="347.90000000000003" y1="253.10" x2="351.3" y2="253.10" stroke="#000" stroke-width="1.2"/>
<line x1="347.90000000000003" y1="249.84" x2="351.3" y2="249.84" stroke="#000" stroke-width="1.2"/>
<line x1="347.90000000000003" y1="247.08" x2="351.3" y2="247.08" stroke="#000" stroke-width="1.2"/>
<line x1="347.90000000000003" y1="244.69" x2="351.3" y2="244.69" stroke="#000" stroke-width="1.2"/>
<line x1="347.90000000000003" y1="242.59" x2="351.3" y2="242.59" stroke="#000" stroke-width="1.2"/>
<line x1="345.1" y1="240.70" x2="351.3" y2="240.70" stroke="#000" stroke-width="1.3"/>
<text x="343.90" y="244.90" text-anchor="end" font-size="13" font-weight="bold" stroke="#000" stroke-width="0.3">10<tspan font-size="9.0" dx="1.5" dy="-4.3">5</tspan></text>
<line x1="351.30" y1="405.5" x2="351.30" y2="411.3" stroke="#000" stroke-width="1.3"/>
<line x1="400.93" y1="405.5" x2="400.93" y2="411.3" stroke="#000" stroke-width="1.3"/>
<line x1="450.57" y1="405.5" x2="450.57" y2="411.3" stroke="#000" stroke-width="1.3"/>
<line x1="500.20" y1="405.5" x2="500.20" y2="411.3" stroke="#000" stroke-width="1.3"/>
<line x1="363.71" y1="405.5" x2="363.71" y2="408.9" stroke="#000" stroke-width="1.2"/>
<line x1="376.12" y1="405.5" x2="376.12" y2="408.9" stroke="#000" stroke-width="1.2"/>
<line x1="388.53" y1="405.5" x2="388.53" y2="408.9" stroke="#000" stroke-width="1.2"/>
<line x1="413.34" y1="405.5" x2="413.34" y2="408.9" stroke="#000" stroke-width="1.2"/>
<line x1="425.75" y1="405.5" x2="425.75" y2="408.9" stroke="#000" stroke-width="1.2"/>
<line x1="438.16" y1="405.5" x2="438.16" y2="408.9" stroke="#000" stroke-width="1.2"/>
<line x1="462.98" y1="405.5" x2="462.98" y2="408.9" stroke="#000" stroke-width="1.2"/>
<line x1="475.38" y1="405.5" x2="475.38" y2="408.9" stroke="#000" stroke-width="1.2"/>
<line x1="487.79" y1="405.5" x2="487.79" y2="408.9" stroke="#000" stroke-width="1.2"/>
<line x1="512.61" y1="405.5" x2="512.61" y2="408.9" stroke="#000" stroke-width="1.2"/>
<text x="351.30" y="425.50" text-anchor="middle" font-size="13.9" font-weight="bold" stroke="#000" stroke-width="0.3">0</text>
<text x="400.93" y="425.50" text-anchor="middle" font-size="13.9" font-weight="bold" stroke="#000" stroke-width="0.3">24</text>
<text x="450.57" y="425.50" text-anchor="middle" font-size="13.9" font-weight="bold" stroke="#000" stroke-width="0.3">48</text>
<text x="500.20" y="425.50" text-anchor="middle" font-size="13.9" font-weight="bold" stroke="#000" stroke-width="0.3">72</text>
<text x="398.6" y="239.5" text-anchor="start" font-size="14" font-weight="bold" stroke="#000" stroke-width="0.35" textLength="118" lengthAdjust="spacingAndGlyphs">IMMU-132–treated</text>
<polygon points="419.30,250.05 415.25,258.25 423.35,258.25" fill="#fff" stroke="#000" stroke-width="1.3" stroke-linejoin="miter"/>
<line x1="413.5" y1="254.40" x2="425.2" y2="254.40" stroke="#000" stroke-width="1.3"/>
<text x="432" y="257.5" text-anchor="start" font-size="12.2" font-weight="bold" stroke="#000" stroke-width="0.35" textLength="75" lengthAdjust="spacingAndGlyphs">SN-38 [Total]</text>
<circle cx="419.30" cy="269.50" r="4.2" fill="#fff" stroke="#000" stroke-width="1.3"/>
<line x1="413.5" y1="269.50" x2="425.2" y2="269.50" stroke="#000" stroke-width="1.3"/>
<text x="432" y="273.6" text-anchor="start" font-size="12.2" font-weight="bold" stroke="#000" stroke-width="0.35" textLength="66.8" lengthAdjust="spacingAndGlyphs">SN-38 (free)</text>
<rect x="415.10" y="282.60" width="8.4" height="8.4" fill="#fff" stroke="#000" stroke-width="1.3"/>
<line x1="413.5" y1="286.80" x2="425.2" y2="286.80" stroke="#000" stroke-width="1.3"/>
<text x="432" y="290.3" text-anchor="start" font-size="12.2" font-weight="bold" stroke="#000" stroke-width="0.35" textLength="75.6" lengthAdjust="spacingAndGlyphs">SN-38G (free)</text>
<text x="413.7" y="457.2" text-anchor="middle" font-size="18.2" font-weight="bold" stroke="#000" stroke-width="0.35" textLength="53.7" lengthAdjust="spacingAndGlyphs">Hours</text>
<g transform="translate(14.2,0) rotate(-90)" font-size="18.2" font-weight="bold" stroke="#000" stroke-width="0.35">
<text x="-320.4" y="0" textLength="58.0" lengthAdjust="spacingAndGlyphs">Serum</text>
<text x="-256.2" y="0" textLength="65.9" lengthAdjust="spacingAndGlyphs">(HPLC:</text>
<text x="-184.6" y="0" textLength="65.0" lengthAdjust="spacingAndGlyphs">ng/mL)</text>
</g>
</svg>
</body></html>
